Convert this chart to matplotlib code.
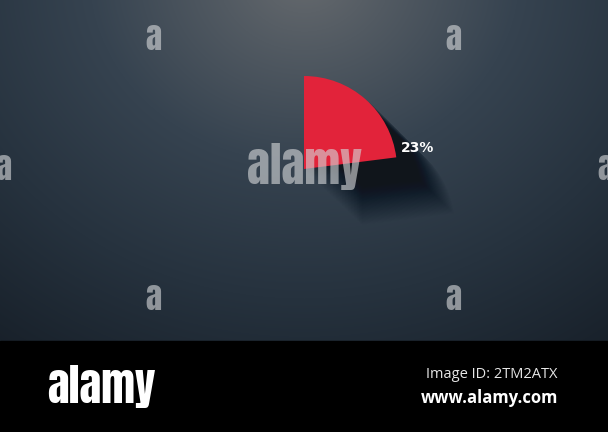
import numpy as np
import matplotlib
matplotlib.use("Agg")
import matplotlib.pyplot as plt
from matplotlib.patches import Wedge

# chart data
values = [23, 77]
slice_colors = ["#e2233a", "none"]
label_text = "23%"

# watermark / footer text
wm_mark = "a"
wm_logo = "alamy"
image_id = "Image ID: 2TM2ATX"
site = "www.alamy.com"

W, H = 608, 432
fig = plt.figure(figsize=(W / 100, H / 100), dpi=100)
ax = fig.add_axes([0, 0, 1, 1])

# radial background, light glow at the top middle
yy, xx = np.mgrid[0:H, 0:W]
d = np.sqrt(((xx - 304) / 390.0) ** 2 + ((yy + 25) / 340.0) ** 2)
stops = [0.0, 0.22, 0.55, 0.95, 1.4]
cols = np.array([[102, 106, 110], [82, 90, 98], [54, 67, 80], [38, 50, 62], [22, 30, 39]]) / 255.0
bg = np.dstack([np.interp(d, stops, cols[:, i]) for i in range(3)])
ax.imshow(bg, extent=(0, W, 0, H), origin="upper", zorder=0, interpolation="bilinear")

# the pie
center = (304, 263)
radius = 93
wedges, _ = ax.pie(values, colors=slice_colors, startangle=90, counterclock=False,
                   center=center, radius=radius, frame=True,
                   wedgeprops=dict(linewidth=0, zorder=3))
red = wedges[0]

# long shadow towards the lower right, fading out
n = 110
for k in range(1, n):
    a = 0.032 * np.exp(-k / 28.0)
    sh = Wedge((red.center[0] + k * 0.74, red.center[1] - k * 0.72), red.r,
               red.theta1, red.theta2, facecolor="#10151b", edgecolor="none",
               alpha=a, zorder=2)
    ax.add_patch(sh)

# percent label beside the end of the slice
ang = np.deg2rad(red.theta1 + 3.5)
ax.text(center[0] + 1.24 * radius * np.cos(ang), center[1] + 1.24 * radius * np.sin(ang),
        label_text, color="white", fontsize=10, fontweight="bold",
        ha="center", va="center", zorder=5)

# watermark
wm_font = ["Anton", "DejaVu Sans"]
for x, y in [(153, 394), (453, 394), (153, 134), (453, 134), (3, 264), (605, 264)]:
    ax.text(x, y, wm_mark, family=wm_font, fontsize=24,
            color="#d4d6d8", alpha=0.62, ha="center", va="center", zorder=6)
ax.text(304, 265, wm_logo, family=wm_font, fontsize=34,
        color="#d4d6d8", alpha=0.62, ha="center", va="center", zorder=6)

# footer band
ax.axhspan(0, H - 341, color="black", zorder=7)
ax.text(101, H - 386, wm_logo, family=wm_font, fontsize=32,
        color="white", ha="center", va="center", zorder=8)
ax.text(558, H - 375, image_id, family=["Open Sans", "DejaVu Sans"], fontsize=10.5,
        color="#e6e6e6", ha="right", va="center", zorder=8)
ax.text(558, H - 398, site, family=["Open Sans", "DejaVu Sans"], fontsize=12,
        fontweight="bold", color="white", ha="right", va="center", zorder=8)

ax.set_xlim(0, W)
ax.set_ylim(0, H)
ax.set_aspect("auto")
ax.axis("off")

fig.savefig("out.png", dpi=100)
